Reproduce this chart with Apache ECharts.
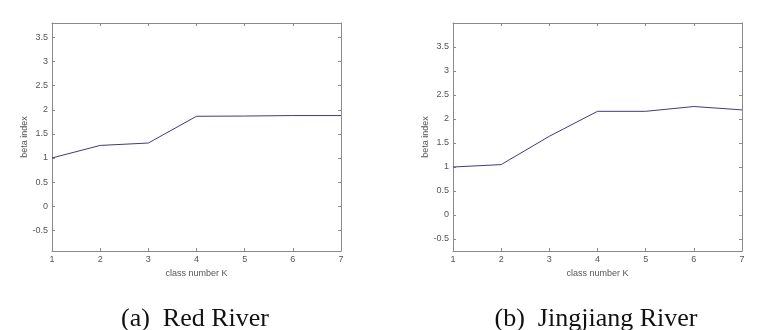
<!DOCTYPE html>
<html>
<head>
<meta charset="utf-8">
<script src="https://cdn.jsdelivr.net/npm/echarts@6/dist/echarts.min.js"></script>
<style>
  html, body { margin: 0; padding: 0; background: #fff; }
  #chart { width: 783px; height: 330px; }
</style>
</head>
<body>
<div id="chart"></div>
<script>
// class numbers on the x axis
const classK = [1, 2, 3, 4, 5, 6, 7];
// beta index
const redRiver = [1.0, 1.26, 1.31, 1.865, 1.87, 1.88, 1.88];
const jingjiangRiver = [1.0, 1.05, 1.64, 2.16, 2.16, 2.26, 2.19];
// tick labels
const xTicks = [1, 2, 3, 4, 5, 6, 7];
const yTicks = [-0.5, 0, 0.5, 1, 1.5, 2, 2.5, 3, 3.5];
const captions = ['(a)  Red River', '(b)  Jingjiang River'];

const axisColor = '#8a8a8a';
const labelStyle = { fontFamily: 'Liberation Sans', fontSize: 9, color: '#555' };

const grids = [
    { left: 52, top: 23, width: 289, height: 228 },
    { left: 453, top: 23, width: 289, height: 228 }
];
const yRanges = [[-0.93, 3.8], [-0.75, 4.0]];

const xAxis = [];
const yAxis = [];
grids.forEach((g, i) => {
    // bottom axis with labels
    xAxis.push({
        gridIndex: i, type: 'value', min: 1, max: 7, position: 'bottom',
        name: 'class number K', nameLocation: 'middle', nameGap: 15,
        nameTextStyle: labelStyle,
        axisLine: { onZero: false, lineStyle: { color: axisColor } },
        axisTick: { inside: true, length: 3, customValues: xTicks, lineStyle: { color: axisColor } },
        axisLabel: Object.assign({ margin: 4, customValues: xTicks }, labelStyle),
        splitLine: { show: false }
    });
    // top mirrored axis
    xAxis.push({
        gridIndex: i, type: 'value', min: 1, max: 7, position: 'top',
        axisLine: { onZero: false, lineStyle: { color: axisColor } },
        axisTick: { inside: true, length: 3, customValues: xTicks, lineStyle: { color: axisColor } },
        axisLabel: { show: false },
        splitLine: { show: false }
    });
    // left axis with labels
    yAxis.push({
        gridIndex: i, type: 'value', min: yRanges[i][0], max: yRanges[i][1], position: 'left',
        name: 'beta index', nameLocation: 'middle', nameGap: 15, nameRotate: 90,
        nameTextStyle: labelStyle,
        axisLine: { show: true, onZero: false, lineStyle: { color: axisColor } },
        axisTick: { show: true, inside: true, length: 3, customValues: yTicks, lineStyle: { color: axisColor } },
        axisLabel: Object.assign({ margin: 4, customValues: yTicks }, labelStyle),
        splitLine: { show: false }
    });
    // right mirrored axis
    yAxis.push({
        gridIndex: i, type: 'value', min: yRanges[i][0], max: yRanges[i][1], position: 'right',
        axisLine: { show: true, onZero: false, lineStyle: { color: axisColor } },
        axisTick: { show: true, inside: true, length: 3, customValues: yTicks, lineStyle: { color: axisColor } },
        axisLabel: { show: false },
        splitLine: { show: false }
    });
});

const makeSeries = (vals, i) => ({
    type: 'line',
    xAxisIndex: i * 2,
    yAxisIndex: i * 2,
    data: classK.map((k, j) => [k, vals[j]]),
    showSymbol: false,
    lineStyle: { color: '#3c3c7c', width: 1 },
    animation: false
});

const captionStyle = { fontFamily: 'Liberation Serif', fontSize: 26, fontWeight: 'normal', color: '#111' };

const chart = echarts.init(document.getElementById('chart'));
chart.setOption({
    animation: false,
    title: [
        { text: captions[0], left: 190, top: 301, textAlign: 'center', textStyle: captionStyle },
        { text: captions[1], left: 591, top: 301, textAlign: 'center', textStyle: captionStyle }
    ],
    grid: grids,
    xAxis: xAxis,
    yAxis: yAxis,
    series: [makeSeries(redRiver, 0), makeSeries(jingjiangRiver, 1)]
});
</script>
</body>
</html>
